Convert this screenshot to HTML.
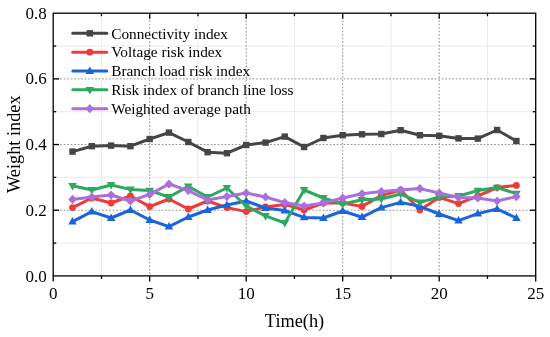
<!DOCTYPE html>
<html><head><meta charset="utf-8"><title>Weight index</title>
<style>
html,body{margin:0;padding:0;background:#fff;}
body{width:550px;height:337px;overflow:hidden;}
svg{display:block;}
text{font-family:"Liberation Serif","Times New Roman",serif;fill:#000;}
</style></head><body>
<svg width="550" height="337" viewBox="0 0 550 337">
<rect width="550" height="337" fill="#fff"/>
<g stroke="#ebebeb" stroke-width="1"><line x1="101.45" y1="13.2" x2="101.45" y2="275.9"/><line x1="197.95" y1="13.2" x2="197.95" y2="275.9"/><line x1="294.45" y1="13.2" x2="294.45" y2="275.9"/><line x1="390.95" y1="13.2" x2="390.95" y2="275.9"/><line x1="487.45" y1="13.2" x2="487.45" y2="275.9"/><line x1="53.2" y1="243.06" x2="535.7" y2="243.06"/><line x1="53.2" y1="177.39" x2="535.7" y2="177.39"/><line x1="53.2" y1="111.71" x2="535.7" y2="111.71"/><line x1="53.2" y1="46.04" x2="535.7" y2="46.04"/></g>
<g stroke="#909090" stroke-width="1" stroke-dasharray="1.7 1.8"><line x1="149.70" y1="13.2" x2="149.70" y2="275.9"/><line x1="246.20" y1="13.2" x2="246.20" y2="275.9"/><line x1="342.70" y1="13.2" x2="342.70" y2="275.9"/><line x1="439.20" y1="13.2" x2="439.20" y2="275.9"/><line x1="53.2" y1="210.22" x2="535.7" y2="210.22"/><line x1="53.2" y1="144.55" x2="535.7" y2="144.55"/><line x1="53.2" y1="78.88" x2="535.7" y2="78.88"/></g>
<polyline fill="none" stroke="#454545" stroke-width="3.0" stroke-linejoin="round" points="72.50,151.60 91.80,146.20 111.10,145.60 130.40,146.20 149.70,139.00 169.00,132.60 188.30,142.00 207.60,152.20 226.90,153.20 246.20,145.00 265.50,142.60 284.80,136.60 304.10,147.00 323.40,138.00 342.70,135.20 362.00,134.30 381.30,134.00 400.60,130.20 419.90,135.20 439.20,135.80 458.50,138.40 477.80,138.60 497.10,130.00 516.40,141.00"/>
<rect x="69.30" y="148.40" width="6.40" height="6.40" fill="#454545"/>
<rect x="88.60" y="143.00" width="6.40" height="6.40" fill="#454545"/>
<rect x="107.90" y="142.40" width="6.40" height="6.40" fill="#454545"/>
<rect x="127.20" y="143.00" width="6.40" height="6.40" fill="#454545"/>
<rect x="146.50" y="135.80" width="6.40" height="6.40" fill="#454545"/>
<rect x="165.80" y="129.40" width="6.40" height="6.40" fill="#454545"/>
<rect x="185.10" y="138.80" width="6.40" height="6.40" fill="#454545"/>
<rect x="204.40" y="149.00" width="6.40" height="6.40" fill="#454545"/>
<rect x="223.70" y="150.00" width="6.40" height="6.40" fill="#454545"/>
<rect x="243.00" y="141.80" width="6.40" height="6.40" fill="#454545"/>
<rect x="262.30" y="139.40" width="6.40" height="6.40" fill="#454545"/>
<rect x="281.60" y="133.40" width="6.40" height="6.40" fill="#454545"/>
<rect x="300.90" y="143.80" width="6.40" height="6.40" fill="#454545"/>
<rect x="320.20" y="134.80" width="6.40" height="6.40" fill="#454545"/>
<rect x="339.50" y="132.00" width="6.40" height="6.40" fill="#454545"/>
<rect x="358.80" y="131.10" width="6.40" height="6.40" fill="#454545"/>
<rect x="378.10" y="130.80" width="6.40" height="6.40" fill="#454545"/>
<rect x="397.40" y="127.00" width="6.40" height="6.40" fill="#454545"/>
<rect x="416.70" y="132.00" width="6.40" height="6.40" fill="#454545"/>
<rect x="436.00" y="132.60" width="6.40" height="6.40" fill="#454545"/>
<rect x="455.30" y="135.20" width="6.40" height="6.40" fill="#454545"/>
<rect x="474.60" y="135.40" width="6.40" height="6.40" fill="#454545"/>
<rect x="493.90" y="126.80" width="6.40" height="6.40" fill="#454545"/>
<rect x="513.20" y="137.80" width="6.40" height="6.40" fill="#454545"/>
<polyline fill="none" stroke="#ef3a38" stroke-width="3.0" stroke-linejoin="round" points="72.50,207.60 91.80,198.00 111.10,203.00 130.40,196.00 149.70,206.60 169.00,199.00 188.30,209.00 207.60,201.00 226.90,207.60 246.20,211.60 265.50,207.00 284.80,204.40 304.10,210.00 323.40,203.00 342.70,203.00 362.00,206.40 381.30,195.60 400.60,190.00 419.90,210.00 439.20,197.40 458.50,203.60 477.80,196.00 497.10,187.60 516.40,185.40"/>
<circle cx="72.50" cy="207.60" r="3.40" fill="#ef3a38"/>
<circle cx="91.80" cy="198.00" r="3.40" fill="#ef3a38"/>
<circle cx="111.10" cy="203.00" r="3.40" fill="#ef3a38"/>
<circle cx="130.40" cy="196.00" r="3.40" fill="#ef3a38"/>
<circle cx="149.70" cy="206.60" r="3.40" fill="#ef3a38"/>
<circle cx="169.00" cy="199.00" r="3.40" fill="#ef3a38"/>
<circle cx="188.30" cy="209.00" r="3.40" fill="#ef3a38"/>
<circle cx="207.60" cy="201.00" r="3.40" fill="#ef3a38"/>
<circle cx="226.90" cy="207.60" r="3.40" fill="#ef3a38"/>
<circle cx="246.20" cy="211.60" r="3.40" fill="#ef3a38"/>
<circle cx="265.50" cy="207.00" r="3.40" fill="#ef3a38"/>
<circle cx="284.80" cy="204.40" r="3.40" fill="#ef3a38"/>
<circle cx="304.10" cy="210.00" r="3.40" fill="#ef3a38"/>
<circle cx="323.40" cy="203.00" r="3.40" fill="#ef3a38"/>
<circle cx="342.70" cy="203.00" r="3.40" fill="#ef3a38"/>
<circle cx="362.00" cy="206.40" r="3.40" fill="#ef3a38"/>
<circle cx="381.30" cy="195.60" r="3.40" fill="#ef3a38"/>
<circle cx="400.60" cy="190.00" r="3.40" fill="#ef3a38"/>
<circle cx="419.90" cy="210.00" r="3.40" fill="#ef3a38"/>
<circle cx="439.20" cy="197.40" r="3.40" fill="#ef3a38"/>
<circle cx="458.50" cy="203.60" r="3.40" fill="#ef3a38"/>
<circle cx="477.80" cy="196.00" r="3.40" fill="#ef3a38"/>
<circle cx="497.10" cy="187.60" r="3.40" fill="#ef3a38"/>
<circle cx="516.40" cy="185.40" r="3.40" fill="#ef3a38"/>
<polyline fill="none" stroke="#1a64de" stroke-width="3.0" stroke-linejoin="round" points="72.50,221.60 91.80,211.60 111.10,218.00 130.40,210.00 149.70,220.00 169.00,226.60 188.30,217.00 207.60,210.00 226.90,205.00 246.20,201.00 265.50,208.00 284.80,210.60 304.10,217.40 323.40,218.00 342.70,211.00 362.00,217.20 381.30,207.60 400.60,202.40 419.90,206.40 439.20,214.00 458.50,220.60 477.80,213.60 497.10,209.00 516.40,218.00"/>
<polygon points="72.50,217.00 76.80,224.50 68.20,224.50" fill="#1a64de"/>
<polygon points="91.80,207.00 96.10,214.50 87.50,214.50" fill="#1a64de"/>
<polygon points="111.10,213.40 115.40,220.90 106.80,220.90" fill="#1a64de"/>
<polygon points="130.40,205.40 134.70,212.90 126.10,212.90" fill="#1a64de"/>
<polygon points="149.70,215.40 154.00,222.90 145.40,222.90" fill="#1a64de"/>
<polygon points="169.00,222.00 173.30,229.50 164.70,229.50" fill="#1a64de"/>
<polygon points="188.30,212.40 192.60,219.90 184.00,219.90" fill="#1a64de"/>
<polygon points="207.60,205.40 211.90,212.90 203.30,212.90" fill="#1a64de"/>
<polygon points="226.90,200.40 231.20,207.90 222.60,207.90" fill="#1a64de"/>
<polygon points="246.20,196.40 250.50,203.90 241.90,203.90" fill="#1a64de"/>
<polygon points="265.50,203.40 269.80,210.90 261.20,210.90" fill="#1a64de"/>
<polygon points="284.80,206.00 289.10,213.50 280.50,213.50" fill="#1a64de"/>
<polygon points="304.10,212.80 308.40,220.30 299.80,220.30" fill="#1a64de"/>
<polygon points="323.40,213.40 327.70,220.90 319.10,220.90" fill="#1a64de"/>
<polygon points="342.70,206.40 347.00,213.90 338.40,213.90" fill="#1a64de"/>
<polygon points="362.00,212.60 366.30,220.10 357.70,220.10" fill="#1a64de"/>
<polygon points="381.30,203.00 385.60,210.50 377.00,210.50" fill="#1a64de"/>
<polygon points="400.60,197.80 404.90,205.30 396.30,205.30" fill="#1a64de"/>
<polygon points="419.90,201.80 424.20,209.30 415.60,209.30" fill="#1a64de"/>
<polygon points="439.20,209.40 443.50,216.90 434.90,216.90" fill="#1a64de"/>
<polygon points="458.50,216.00 462.80,223.50 454.20,223.50" fill="#1a64de"/>
<polygon points="477.80,209.00 482.10,216.50 473.50,216.50" fill="#1a64de"/>
<polygon points="497.10,204.40 501.40,211.90 492.80,211.90" fill="#1a64de"/>
<polygon points="516.40,213.40 520.70,220.90 512.10,220.90" fill="#1a64de"/>
<polyline fill="none" stroke="#2ea85e" stroke-width="3.0" stroke-linejoin="round" points="72.50,185.80 91.80,190.00 111.10,185.00 130.40,189.40 149.70,190.60 169.00,197.00 188.30,186.40 207.60,197.00 226.90,188.00 246.20,206.00 265.50,215.80 284.80,223.00 304.10,190.00 323.40,198.00 342.70,204.00 362.00,199.80 381.30,199.00 400.60,194.00 419.90,202.40 439.20,197.00 458.50,196.00 477.80,190.60 497.10,187.60 516.40,193.60"/>
<polygon points="72.50,190.40 76.80,182.90 68.20,182.90" fill="#2ea85e"/>
<polygon points="91.80,194.60 96.10,187.10 87.50,187.10" fill="#2ea85e"/>
<polygon points="111.10,189.60 115.40,182.10 106.80,182.10" fill="#2ea85e"/>
<polygon points="130.40,194.00 134.70,186.50 126.10,186.50" fill="#2ea85e"/>
<polygon points="149.70,195.20 154.00,187.70 145.40,187.70" fill="#2ea85e"/>
<polygon points="169.00,201.60 173.30,194.10 164.70,194.10" fill="#2ea85e"/>
<polygon points="188.30,191.00 192.60,183.50 184.00,183.50" fill="#2ea85e"/>
<polygon points="207.60,201.60 211.90,194.10 203.30,194.10" fill="#2ea85e"/>
<polygon points="226.90,192.60 231.20,185.10 222.60,185.10" fill="#2ea85e"/>
<polygon points="246.20,210.60 250.50,203.10 241.90,203.10" fill="#2ea85e"/>
<polygon points="265.50,220.40 269.80,212.90 261.20,212.90" fill="#2ea85e"/>
<polygon points="284.80,227.60 289.10,220.10 280.50,220.10" fill="#2ea85e"/>
<polygon points="304.10,194.60 308.40,187.10 299.80,187.10" fill="#2ea85e"/>
<polygon points="323.40,202.60 327.70,195.10 319.10,195.10" fill="#2ea85e"/>
<polygon points="342.70,208.60 347.00,201.10 338.40,201.10" fill="#2ea85e"/>
<polygon points="362.00,204.40 366.30,196.90 357.70,196.90" fill="#2ea85e"/>
<polygon points="381.30,203.60 385.60,196.10 377.00,196.10" fill="#2ea85e"/>
<polygon points="400.60,198.60 404.90,191.10 396.30,191.10" fill="#2ea85e"/>
<polygon points="419.90,207.00 424.20,199.50 415.60,199.50" fill="#2ea85e"/>
<polygon points="439.20,201.60 443.50,194.10 434.90,194.10" fill="#2ea85e"/>
<polygon points="458.50,200.60 462.80,193.10 454.20,193.10" fill="#2ea85e"/>
<polygon points="477.80,195.20 482.10,187.70 473.50,187.70" fill="#2ea85e"/>
<polygon points="497.10,192.20 501.40,184.70 492.80,184.70" fill="#2ea85e"/>
<polygon points="516.40,198.20 520.70,190.70 512.10,190.70" fill="#2ea85e"/>
<polyline fill="none" stroke="#a970dd" stroke-width="3.0" stroke-linejoin="round" points="72.50,199.40 91.80,197.00 111.10,195.00 130.40,201.00 149.70,194.40 169.00,184.00 188.30,190.60 207.60,200.00 226.90,196.60 246.20,193.00 265.50,197.00 284.80,202.60 304.10,206.00 323.40,203.00 342.70,198.00 362.00,193.80 381.30,191.60 400.60,190.00 419.90,188.60 439.20,193.00 458.50,197.40 477.80,198.00 497.10,201.00 516.40,196.60"/>
<polygon points="72.50,194.80 76.80,199.40 72.50,204.00 68.20,199.40" fill="#a970dd"/>
<polygon points="91.80,192.40 96.10,197.00 91.80,201.60 87.50,197.00" fill="#a970dd"/>
<polygon points="111.10,190.40 115.40,195.00 111.10,199.60 106.80,195.00" fill="#a970dd"/>
<polygon points="130.40,196.40 134.70,201.00 130.40,205.60 126.10,201.00" fill="#a970dd"/>
<polygon points="149.70,189.80 154.00,194.40 149.70,199.00 145.40,194.40" fill="#a970dd"/>
<polygon points="169.00,179.40 173.30,184.00 169.00,188.60 164.70,184.00" fill="#a970dd"/>
<polygon points="188.30,186.00 192.60,190.60 188.30,195.20 184.00,190.60" fill="#a970dd"/>
<polygon points="207.60,195.40 211.90,200.00 207.60,204.60 203.30,200.00" fill="#a970dd"/>
<polygon points="226.90,192.00 231.20,196.60 226.90,201.20 222.60,196.60" fill="#a970dd"/>
<polygon points="246.20,188.40 250.50,193.00 246.20,197.60 241.90,193.00" fill="#a970dd"/>
<polygon points="265.50,192.40 269.80,197.00 265.50,201.60 261.20,197.00" fill="#a970dd"/>
<polygon points="284.80,198.00 289.10,202.60 284.80,207.20 280.50,202.60" fill="#a970dd"/>
<polygon points="304.10,201.40 308.40,206.00 304.10,210.60 299.80,206.00" fill="#a970dd"/>
<polygon points="323.40,198.40 327.70,203.00 323.40,207.60 319.10,203.00" fill="#a970dd"/>
<polygon points="342.70,193.40 347.00,198.00 342.70,202.60 338.40,198.00" fill="#a970dd"/>
<polygon points="362.00,189.20 366.30,193.80 362.00,198.40 357.70,193.80" fill="#a970dd"/>
<polygon points="381.30,187.00 385.60,191.60 381.30,196.20 377.00,191.60" fill="#a970dd"/>
<polygon points="400.60,185.40 404.90,190.00 400.60,194.60 396.30,190.00" fill="#a970dd"/>
<polygon points="419.90,184.00 424.20,188.60 419.90,193.20 415.60,188.60" fill="#a970dd"/>
<polygon points="439.20,188.40 443.50,193.00 439.20,197.60 434.90,193.00" fill="#a970dd"/>
<polygon points="458.50,192.80 462.80,197.40 458.50,202.00 454.20,197.40" fill="#a970dd"/>
<polygon points="477.80,193.40 482.10,198.00 477.80,202.60 473.50,198.00" fill="#a970dd"/>
<polygon points="497.10,196.40 501.40,201.00 497.10,205.60 492.80,201.00" fill="#a970dd"/>
<polygon points="516.40,192.00 520.70,196.60 516.40,201.20 512.10,196.60" fill="#a970dd"/>
<rect x="53.2" y="13.2" width="482.50000000000006" height="262.7" fill="none" stroke="#000" stroke-width="1.3"/>
<g stroke="#000" stroke-width="1.3"><line x1="53.20" y1="275.9" x2="53.20" y2="281.5"/><line x1="149.70" y1="275.9" x2="149.70" y2="281.5"/><line x1="149.70" y1="13.2" x2="149.70" y2="18.799999999999997"/><line x1="246.20" y1="275.9" x2="246.20" y2="281.5"/><line x1="246.20" y1="13.2" x2="246.20" y2="18.799999999999997"/><line x1="342.70" y1="275.9" x2="342.70" y2="281.5"/><line x1="342.70" y1="13.2" x2="342.70" y2="18.799999999999997"/><line x1="439.20" y1="275.9" x2="439.20" y2="281.5"/><line x1="439.20" y1="13.2" x2="439.20" y2="18.799999999999997"/><line x1="535.70" y1="275.9" x2="535.70" y2="281.5"/><line x1="101.45" y1="275.9" x2="101.45" y2="278.9"/><line x1="101.45" y1="13.2" x2="101.45" y2="16.2"/><line x1="197.95" y1="275.9" x2="197.95" y2="278.9"/><line x1="197.95" y1="13.2" x2="197.95" y2="16.2"/><line x1="294.45" y1="275.9" x2="294.45" y2="278.9"/><line x1="294.45" y1="13.2" x2="294.45" y2="16.2"/><line x1="390.95" y1="275.9" x2="390.95" y2="278.9"/><line x1="390.95" y1="13.2" x2="390.95" y2="16.2"/><line x1="487.45" y1="275.9" x2="487.45" y2="278.9"/><line x1="487.45" y1="13.2" x2="487.45" y2="16.2"/><line x1="53.2" y1="210.22" x2="59.0" y2="210.22"/><line x1="535.7" y1="210.22" x2="529.9000000000001" y2="210.22"/><line x1="53.2" y1="144.55" x2="59.0" y2="144.55"/><line x1="535.7" y1="144.55" x2="529.9000000000001" y2="144.55"/><line x1="53.2" y1="78.88" x2="59.0" y2="78.88"/><line x1="535.7" y1="78.88" x2="529.9000000000001" y2="78.88"/><line x1="53.2" y1="243.06" x2="56.2" y2="243.06"/><line x1="535.7" y1="243.06" x2="532.7" y2="243.06"/><line x1="53.2" y1="177.39" x2="56.2" y2="177.39"/><line x1="535.7" y1="177.39" x2="532.7" y2="177.39"/><line x1="53.2" y1="111.71" x2="56.2" y2="111.71"/><line x1="535.7" y1="111.71" x2="532.7" y2="111.71"/><line x1="53.2" y1="46.04" x2="56.2" y2="46.04"/><line x1="535.7" y1="46.04" x2="532.7" y2="46.04"/></g>
<g font-size="17"><text x="46.8" y="281.50" text-anchor="end">0.0</text><text x="46.8" y="215.82" text-anchor="end">0.2</text><text x="46.8" y="150.15" text-anchor="end">0.4</text><text x="46.8" y="84.48" text-anchor="end">0.6</text><text x="46.8" y="18.80" text-anchor="end">0.8</text><text x="53.20" y="298.5" text-anchor="middle">0</text><text x="149.70" y="298.5" text-anchor="middle">5</text><text x="246.20" y="298.5" text-anchor="middle">10</text><text x="342.70" y="298.5" text-anchor="middle">15</text><text x="439.20" y="298.5" text-anchor="middle">20</text><text x="535.70" y="298.5" text-anchor="middle">25</text></g>
<text x="294.5" y="326.9" font-size="18.3" text-anchor="middle">Time(h)</text>
<text transform="translate(19.6,144.2) rotate(-90)" font-size="18.3" text-anchor="middle">Weight index</text>
<line x1="72.8" y1="33.30" x2="106.8" y2="33.30" stroke="#454545" stroke-width="3.0" stroke-linecap="round"/>
<rect x="86.60" y="30.10" width="6.40" height="6.40" fill="#454545"/>
<text x="111.2" y="38.60" font-size="15.3">Connectivity index</text>
<line x1="72.8" y1="52.15" x2="106.8" y2="52.15" stroke="#ef3a38" stroke-width="3.0" stroke-linecap="round"/>
<circle cx="89.80" cy="52.15" r="3.40" fill="#ef3a38"/>
<text x="111.2" y="57.45" font-size="15.3">Voltage risk index</text>
<line x1="72.8" y1="71.00" x2="106.8" y2="71.00" stroke="#1a64de" stroke-width="3.0" stroke-linecap="round"/>
<polygon points="89.80,66.40 94.10,73.90 85.50,73.90" fill="#1a64de"/>
<text x="111.2" y="76.30" font-size="15.3">Branch load risk index</text>
<line x1="72.8" y1="89.85" x2="106.8" y2="89.85" stroke="#2ea85e" stroke-width="3.0" stroke-linecap="round"/>
<polygon points="89.80,94.45 94.10,86.95 85.50,86.95" fill="#2ea85e"/>
<text x="111.2" y="95.15" font-size="15.3">Risk index of branch line loss</text>
<line x1="72.8" y1="108.70" x2="106.8" y2="108.70" stroke="#a970dd" stroke-width="3.0" stroke-linecap="round"/>
<polygon points="89.80,104.10 94.10,108.70 89.80,113.30 85.50,108.70" fill="#a970dd"/>
<text x="111.2" y="114.00" font-size="15.3">Weighted average path</text>
</svg></body></html>
